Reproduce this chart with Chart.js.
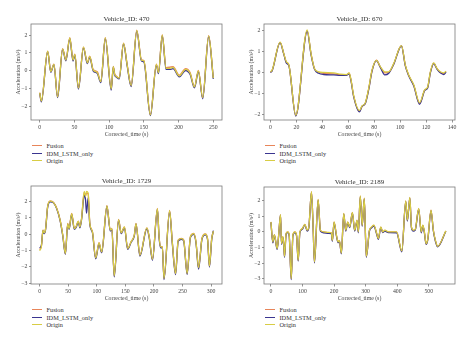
<!DOCTYPE html>
<html>
<head>
<meta charset="utf-8">
<script src="https://cdn.jsdelivr.net/npm/chart.js@4.4.1/dist/chart.umd.min.js"></script>
<style>
  html, body { margin: 0; padding: 0; background: #fff; }
  #page { position: relative; width: 474px; height: 345px; overflow: hidden; background: #fff;
          font-family: 'Liberation Serif', 'DejaVu Serif', serif; color: #333; }
  #page canvas { position: absolute; }
  .plot-title { position: absolute; font-size: 7px; line-height: 8px; text-align: center; white-space: nowrap; }
  .legend-item { position: absolute; height: 7px; display: flex; align-items: center; white-space: nowrap; }
  .legend-line { width: 10px; height: 1.2px; margin-right: 5px; }
  .legend-text { font-size: 6.3px; line-height: 7px; }
</style>
</head>
<body>
<div id="page"></div>
<script>
// series names and colours
const seriesNames = ['Fusion', 'IDM_LSTM_only', 'Origin'];
const seriesColors = ['#e8855a', '#3a3590', '#d8cd45'];

// Vehicle_ID: 470
const time470 = [0, 2.4, 11.5, 16, 20.5, 25.8, 33, 37.7, 43.4, 48, 50.6, 55.8, 63, 68.7, 72, 77, 83, 88, 94.5, 103, 106, 108, 110.7, 114.5, 120.7, 126, 131.7, 139.8, 146.5, 150, 159.4, 168, 171, 176.5, 182, 187, 192, 201, 210, 216.6, 222.8, 228.5, 234.7, 243.3, 250];
const fusion470 = [-1.22, -1.7, 1.1, -0.04, 0.37, -1.46, 1.24, 0.62, 1.85, 0.61, 0.93, -0.98, 1.33, 0.46, 0.82, 0.08, -0.05, -0.6, 1.85, -1.02, 0.25, -0.18, -0.3, -0.4, 1.55, 0.34, -0.84, 2.28, 0.62, 0.58, -2.47, 0.38, -0.08, 2.01, 0.18, 0.2, 0.24, -0.24, 0.12, -0.1, -0.9, 0.02, -1.5, 1.97, -0.4];
const idm470 = [-1.25, -1.74, 1.08, -0.08, 0.33, -1.5, 1.2, 0.56, 1.8, 0.55, 0.88, -1.02, 1.28, 0.4, 0.76, 0.0, -0.15, -0.66, 1.8, -1.08, 0.2, -0.24, -0.36, -0.45, 1.5, 0.28, -0.88, 2.22, 0.55, 0.5, -2.5, 0.32, -0.16, 1.96, 0.08, 0.08, 0.12, -0.34, 0.02, -0.2, -0.95, -0.05, -1.56, 1.92, -0.45];
const origin470 = [-1.23, -1.69, 1.1, -0.05, 0.36, -1.45, 1.23, 0.6, 1.84, 0.6, 0.92, -0.96, 1.32, 0.45, 0.81, 0.05, -0.1, -0.6, 1.84, -1.01, 0.23, -0.2, -0.32, -0.41, 1.54, 0.32, -0.83, 2.27, 0.6, 0.56, -2.47, 0.36, -0.1, 2.0, 0.14, 0.14, 0.19, -0.28, 0.08, -0.14, -0.9, 0.0, -1.5, 1.96, -0.41];
const xTicks470 = [0, 50, 100, 150, 200, 250];
const yTicks470 = [-2, -1, 0, 1, 2];

// Vehicle_ID: 670
const time670 = [0, 1.3, 7.4, 10.3, 12.3, 14.1, 19.5, 28.3, 31.3, 33.9, 37.2, 41, 48.8, 54, 58.6, 60.6, 62, 64.2, 68.6, 70.6, 73.2, 75.8, 78.3, 81.7, 84.8, 88.1, 91.2, 95, 101, 104, 106.6, 110.5, 115, 119, 121.2, 123.3, 125.9, 128.4, 131, 133.6, 135.4];
const fusion670 = [0.03, 0.12, 1.45, 0.9, 0.5, 0.38, -2.04, 2.0, 0.9, 0.2, 0.03, -0.03, -0.05, -0.09, -0.1, -0.02, -0.32, -1.12, -1.83, -1.6, -1.44, -0.75, 0.1, 0.6, 0.27, 0.0, 0.02, 0.42, 1.3, 0.35, -0.12, -0.6, -1.46, -0.82, -0.7, 0.02, 0.46, 0.2, 0.02, -0.04, 0.06];
const idm670 = [0.02, 0.1, 1.44, 0.88, 0.46, 0.36, -2.06, 1.98, 0.86, 0.18, -0.02, -0.08, -0.1, -0.12, -0.12, -0.05, -0.35, -1.15, -1.86, -1.6, -1.45, -0.78, 0.08, 0.58, 0.25, -0.1, -0.02, 0.4, 1.28, 0.33, -0.14, -0.62, -1.5, -0.84, -0.72, 0.0, 0.44, 0.18, 0.0, -0.08, 0.04];
const origin670 = [0.05, 0.13, 1.46, 0.91, 0.52, 0.4, -2.02, 2.05, 0.91, 0.21, 0.05, 0.02, 0.0, -0.06, -0.08, 0.0, -0.3, -1.1, -1.8, -1.58, -1.42, -0.72, 0.13, 0.6, 0.29, 0.05, 0.05, 0.44, 1.3, 0.37, -0.1, -0.57, -1.42, -0.8, -0.68, 0.05, 0.47, 0.21, 0.05, 0.0, 0.08];
const xTicks670 = [0, 20, 40, 60, 80, 100, 120, 140];
const yTicks670 = [-2, -1, 0, 1, 2];

// Vehicle_ID: 1729
const time1729 = [0, 3, 5.8, 8, 10.4, 13.8, 18.5, 24.2, 30, 35.8, 40.4, 45, 49, 51.4, 56, 60.6, 63.5, 67.5, 70.4, 73.3, 77.9, 80.2, 81.9, 84.8, 87.7, 92.3, 98, 103.8, 108.5, 117.7, 123.5, 126.4, 130.4, 138, 142.5, 148.3, 154, 159.8, 165.6, 168.5, 175.4, 187.5, 191.6, 197.3, 206, 208.9, 211.8, 214.7, 217.5, 227.3, 232, 237.7, 242.3, 248, 252, 258, 263.7, 269.5, 273.5, 278, 283.9, 289.7, 293.7, 297, 301, 304];
const fusion1729 = [-0.95, -0.72, 0.24, 0.06, 0.34, 1.66, 2.02, 1.93, 1.56, 0.85, -0.06, -1.2, 0.65, 0.34, 1.26, 0.34, 0.44, 0.79, 0.44, 0.95, 2.55, 2.35, 2.5, 2.45, 0.65, 0.14, -1.47, -0.53, -1.1, 1.73, 0.24, 0.34, -2.57, 0.89, 0.08, 0.44, -0.9, -0.47, -0.06, 0.65, -1.3, 0.38, -0.16, -1.55, 1.56, -0.16, -0.77, -0.77, -2.72, 1.44, -0.47, -2.42, -0.37, -0.27, -0.37, -2.42, -0.16, 0.04, -0.47, -2.07, -0.27, 0.01, -0.27, -1.97, -0.27, 0.18];
const idm1729 = [-0.85, -0.7, 0.2, 0.02, 0.3, 1.6, 1.97, 1.9, 1.52, 0.8, -0.12, -1.24, 0.58, 0.28, 1.2, 0.28, 0.38, 0.72, 0.38, 0.9, 2.35, 2.1, 1.27, 2.2, 0.58, 0.08, -1.52, -0.6, -1.14, 1.68, 0.18, 0.28, -2.62, 0.84, 0.02, 0.38, -0.94, -0.52, -0.12, 0.6, -1.35, 0.32, -0.22, -1.6, 1.5, -0.22, -0.84, -0.84, -2.78, 1.38, -0.54, -2.48, -0.44, -0.32, -0.42, -2.46, -0.22, -0.02, -0.54, -2.14, -0.32, -0.05, -0.34, -2.02, -0.34, 0.2];
const origin1729 = [-1.02, -0.75, 0.23, 0.07, 0.33, 1.65, 2.0, 1.92, 1.55, 0.84, -0.07, -1.19, 0.64, 0.33, 1.25, 0.33, 0.43, 0.78, 0.43, 0.94, 2.6, 2.3, 2.6, 2.5, 0.64, 0.13, -1.46, -0.54, -1.09, 1.72, 0.23, 0.33, -2.56, 0.88, 0.07, 0.43, -0.89, -0.48, -0.07, 0.64, -1.29, 0.37, -0.17, -1.54, 1.55, -0.17, -0.78, -0.78, -2.71, 1.43, -0.48, -2.41, -0.38, -0.28, -0.38, -2.41, -0.17, 0.03, -0.48, -2.06, -0.28, 0.0, -0.28, -1.96, -0.28, 0.17];
const xTicks1729 = [0, 50, 100, 150, 200, 250, 300];
const yTicks1729 = [-3, -2, -1, 0, 1, 2];

// Vehicle_ID: 2189
const time2189 = [0, 6, 11, 19.6, 24, 30.3, 33.5, 37.7, 40.9, 43, 48, 53.6, 57.8, 64.3, 69.5, 75.8, 81, 86.3, 91.6, 99, 107.3, 114.7, 120, 128.4, 133.6, 137.8, 149.4, 156.7, 167, 183, 191.4, 194.5, 200, 207.4, 212.7, 216.9, 223, 230.6, 236.9, 243.2, 249.5, 257.9, 265.3, 272.7, 276.9, 283, 289, 295.6, 302, 312, 319, 326, 335, 340, 348, 354, 361, 372, 398, 414.5, 427, 432, 440, 445, 451, 457, 468, 476, 481, 486, 491.5, 497, 507, 514.5, 521, 528, 554];
const fusion2189 = [0.62, -0.66, -0.19, -1.08, -0.31, 1.09, -0.76, -0.31, -0.91, -1.58, -0.11, -0.01, -0.21, -3.0, -0.21, -0.01, -0.21, -1.83, -0.01, 0.19, 0.47, 0.09, 0.3, 2.54, 0.3, -1.94, 2.05, 0.09, -0.01, -0.05, -0.07, -0.56, 0.62, -0.21, -0.66, -0.56, -1.37, 1.16, 0.09, 0.62, 0.3, 1.22, 0.09, 0.73, -0.01, 2.27, 0.39, 2.14, -1.58, 0.09, 0.3, 0.41, -0.11, -0.45, 0.3, -0.01, 0.09, -0.01, -0.01, -1.24, 1.96, 0.73, 2.18, 0.3, 0.09, 0.14, 1.48, -0.01, 0.41, -0.01, -0.77, -0.45, 1.37, 0.09, -0.56, -0.93, 0.05];
const idm2189 = [0.6, -0.7, -0.22, -1.12, -0.35, 1.06, -0.8, -0.35, -0.96, -1.62, -0.15, -0.05, -0.26, -3.04, -0.25, -0.05, -0.25, -1.87, -0.05, 0.16, 0.44, 0.05, 0.27, 2.5, 0.26, -1.98, 2.0, 0.04, -0.06, -0.1, -0.12, -0.6, 0.58, -0.26, -0.7, -0.6, -1.4, 1.12, 0.05, 0.58, 0.26, 1.18, 0.05, 0.7, -0.06, 2.22, 0.35, 2.1, -1.62, 0.05, 0.26, 0.37, -0.16, -0.48, 0.26, -0.05, 0.04, -0.05, -0.06, -1.28, 1.92, 0.68, 2.14, 0.26, 0.04, 0.1, 1.44, -0.06, 0.37, -0.06, -0.8, -0.48, 1.33, 0.05, -0.6, -0.96, 0.04];
const origin2189 = [0.63, -0.64, -0.18, -1.07, -0.3, 1.1, -0.75, -0.3, -0.9, -1.56, -0.1, 0.0, -0.2, -2.98, -0.2, 0.0, -0.2, -1.81, 0.0, 0.2, 0.48, 0.1, 0.31, 2.55, 0.31, -1.92, 2.06, 0.1, 0.0, -0.04, -0.06, -0.54, 0.63, -0.2, -0.64, -0.54, -1.35, 1.17, 0.1, 0.63, 0.31, 1.23, 0.1, 0.74, 0.0, 2.28, 0.4, 2.15, -1.56, 0.1, 0.31, 0.42, -0.1, -0.43, 0.31, 0.0, 0.1, 0.0, 0.0, -1.22, 1.97, 0.74, 2.19, 0.31, 0.1, 0.15, 1.49, 0.0, 0.42, 0.0, -0.75, -0.43, 1.38, 0.1, -0.54, -0.92, 0.06];
const xTicks2189 = [0, 100, 200, 300, 400, 500];
const yTicks2189 = [-3, -2, -1, 0, 1, 2];

// layout of the four panels (plot box in page pixels + axis ranges)
const panels = [
    { title: 'Vehicle_ID: 470', time: time470, series: [fusion470, idm470, origin470], xTicks: xTicks470, yTicks: yTicks470,
      box: [31, 24, 222, 120], xRange: [-12.5, 262.5], yRange: [-2.75, 2.62] },
    { title: 'Vehicle_ID: 670', time: time670, series: [fusion670, idm670, origin670], xTicks: xTicks670, yTicks: yTicks670,
      box: [264, 24, 455, 120], xRange: [-5, 142.3], yRange: [-2.25, 2.33] },
    { title: 'Vehicle_ID: 1729', time: time1729, series: [fusion1729, idm1729, origin1729], xTicks: xTicks1729, yTicks: yTicks1729,
      box: [31, 186, 222, 284], xRange: [-15.2, 319], yRange: [-3.05, 2.93] },
    { title: 'Vehicle_ID: 2189', time: time2189, series: [fusion2189, idm2189, origin2189], xTicks: xTicks2189, yTicks: yTicks2189,
      box: [264, 187, 455, 284], xRange: [-22, 583], yRange: [-3.32, 2.85] }
];

const fontFam = "'Liberation Serif', 'DejaVu Serif', serif";
const Y_AXIS_W = 16;   // room for y ticks + y title
const X_AXIS_H = 18;   // room for x ticks + x title
const PAD_TOP = 6;
const PAD_RIGHT = 6;

Chart.defaults.font.family = fontFam;
Chart.defaults.font.size = 5.8;
Chart.defaults.color = '#444';

// matplotlib style frame round the plot area
const frameBox = {
    id: 'frameBox',
    afterDraw(chart) {
        const { ctx, chartArea: a } = chart;
        ctx.save();
        ctx.strokeStyle = '#7a7a7a';
        ctx.lineWidth = 0.8;
        ctx.strokeRect(a.left, a.top, a.right - a.left, a.bottom - a.top);
        ctx.restore();
    }
};

function fmtTick(v) {
    return v < 0 ? '\u2212' + Math.abs(v) : String(v);
}

function buildPanel(p) {
    const page = document.getElementById('page');
    const [l, t, r, b] = p.box;

    const canvas = document.createElement('canvas');
    canvas.width = (r - l) + Y_AXIS_W + PAD_RIGHT;
    canvas.height = (b - t) + PAD_TOP + X_AXIS_H;
    canvas.style.left = (l - Y_AXIS_W) + 'px';
    canvas.style.top = (t - PAD_TOP) + 'px';
    canvas.style.width = canvas.width + 'px';
    canvas.style.height = canvas.height + 'px';
    page.appendChild(canvas);

    const title = document.createElement('div');
    title.className = 'plot-title';
    title.textContent = p.title;
    title.style.left = l + 'px';
    title.style.width = (r - l) + 'px';
    title.style.top = (t - 9) + 'px';
    page.appendChild(title);

    // legend below the plot, stacked like matplotlib
    seriesNames.forEach((name, i) => {
        const item = document.createElement('div');
        item.className = 'legend-item';
        item.style.left = (l + 0.5) + 'px';
        item.style.top = (b + 22 + i * 7.7) + 'px';
        const line = document.createElement('div');
        line.className = 'legend-line';
        line.style.backgroundColor = seriesColors[i];
        const text = document.createElement('span');
        text.className = 'legend-text';
        text.textContent = name;
        item.appendChild(line);
        item.appendChild(text);
        page.appendChild(item);
    });

    const datasets = p.series.map((vals, i) => ({
        label: seriesNames[i],
        data: p.time.map((x, j) => ({ x: x, y: vals[j] })),
        borderColor: seriesColors[i],
        borderWidth: [1.3, 1.3, 1.25][i],
        pointRadius: 0,
        cubicInterpolationMode: 'monotone',
        order: 2 - i
    }));

    new Chart(canvas.getContext('2d'), {
        type: 'line',
        data: { datasets: datasets },
        options: {
            responsive: false,
            animation: false,
            layout: { padding: { left: 0, top: PAD_TOP, right: PAD_RIGHT, bottom: 0 } },
            plugins: { legend: { display: false }, tooltip: { enabled: false } },
            scales: {
                x: {
                    type: 'linear',
                    min: p.xRange[0],
                    max: p.xRange[1],
                    afterBuildTicks: s => { s.ticks = p.xTicks.map(v => ({ value: v })); },
                    afterFit: s => { s.height = X_AXIS_H; },
                    grid: { drawOnChartArea: false, tickLength: 2.5, color: '#666', lineWidth: 0.7 },
                    border: { display: false },
                    ticks: { padding: 1.5, maxRotation: 0, autoSkip: false, callback: v => fmtTick(v) },
                    title: { display: true, text: 'Corrected_time (s)', padding: 0, font: { size: 5.8 } }
                },
                y: {
                    type: 'linear',
                    min: p.yRange[0],
                    max: p.yRange[1],
                    afterBuildTicks: s => { s.ticks = p.yTicks.map(v => ({ value: v })); },
                    afterFit: s => { s.width = Y_AXIS_W; },
                    grid: { drawOnChartArea: false, tickLength: 2, color: '#666', lineWidth: 0.7 },
                    border: { display: false },
                    ticks: { padding: 1.5, autoSkip: false, callback: v => fmtTick(v) },
                    title: { display: true, text: 'Acceleration (m/s\u00b2)', padding: 0, font: { size: 5.8 } }
                }
            }
        },
        plugins: [frameBox]
    });
}

document.addEventListener('DOMContentLoaded', function() {
    panels.forEach(buildPanel);
});
</script>
</body>
</html>
